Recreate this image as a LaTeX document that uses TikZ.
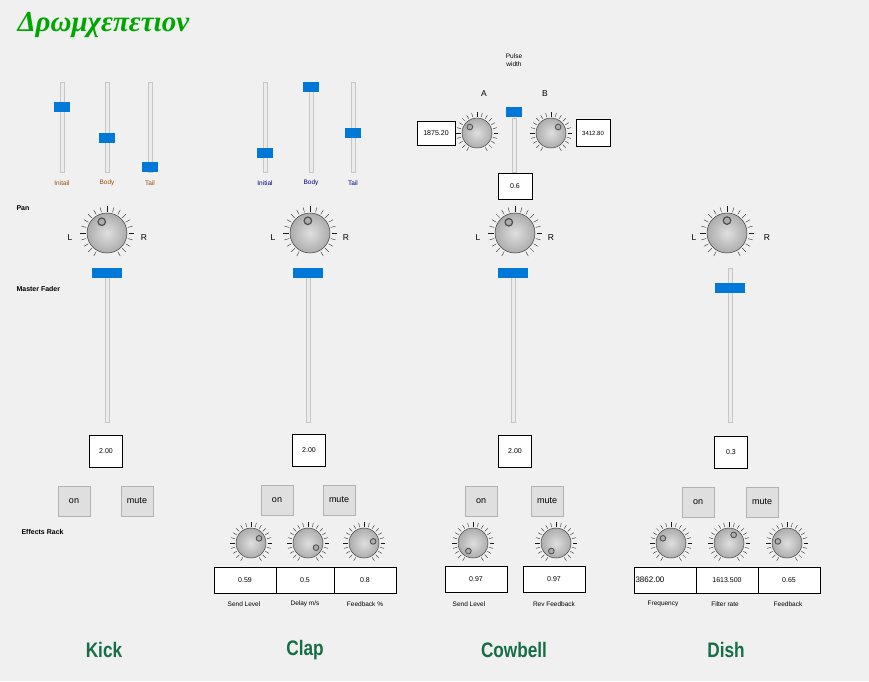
\documentclass[tikz,border=0pt]{standalone}
\usepackage{fontspec}
\setmainfont{Liberation Sans}
\newfontfamily\greekf{Liberation Serif}
\begin{document}
\begin{tikzpicture}[x=1pt,y=-1pt,
  trk/.style={draw=gray!45,fill=gray!15,line width=0.5pt},
  vbox/.style={draw=black,fill=white,line width=0.6pt,font=\fontsize{7}{8}\selectfont,inner sep=0pt},
  btn/.style={draw=gray!60,fill=gray!25,minimum width=32pt,minimum height=30pt,font=\fontsize{9}{10}\selectfont,inner sep=0pt},
  sl/.style={font=\fontsize{6.5}{7.5}\selectfont},
  sect/.style={font=\fontsize{7}{8}\bfseries\selectfont},
  lr/.style={font=\fontsize{8.5}{9}\selectfont},
  big/.style={font=\fontsize{21}{22}\bfseries\selectfont,xscale=0.82}]
\definecolor{hb}{RGB}{0,120,215}
\definecolor{bg}{RGB}{22,110,70}
\tikzset{hnd/.style={fill=hb,draw=none},big/.append style={text=bg}}
\fill[gray!12] (0,0) rectangle (869,681);
\useasboundingbox (0,0) rectangle (869,681);
\newcommand{\knob}[5]{% x y r dotangle name
  \foreach \a in {-60,-45,...,240} {\draw[gray!20!black,line width=0.35pt] (#1,#2)++(-\a:{#3+1.5}) -- ++(-\a:{#3*0.18+1.5});}
  \shade[inner color=gray!25,outer color=gray!65,draw=gray!50!black,line width=0.5pt] (#1,#2) circle (#3) node(#5){};
  \fill[gray!60!black] (#1,#2)++(-#4:{#3*0.62}) circle ({#3*0.22});
  \fill[gray!65] (#1,#2)++(-#4:{#3*0.62}) circle ({#3*0.15});}
\newcommand{\vs}[5]{% x top bottom handley name
  \fill[trk] ({#1-2},#2) rectangle ({#1+2},#3);
  \fill[hnd] ({#1-8},{#4-5}) rectangle ({#1+8},{#4+5});
  \coordinate (#5) at (#1,#4);}
\newcommand{\fd}[3]{% x handley name
  \fill[trk] ({#1-2},268) rectangle ({#1+2},422);
  \fill[hnd] ({#1-15},{#2-5}) rectangle ({#1+15},{#2+5});
  \coordinate (#3) at (#1,#2);}
% title
\node[anchor=west,font=\greekf\itshape\bfseries\fontsize{29}{31}\selectfont,text=green!65!black] (title) at (14,25) {Δρωμχεπετιον};
\node[sect,anchor=west] (pan) at (13,208) {Pan};
\node[sect,anchor=west] (mf) at (13,289) {Master Fader};
\node[sect,anchor=west] (fx) at (18,532) {Effects Rack};
% Kick
\vs{62}{82}{172}{107}{k1}\vs{107}{82}{172}{138}{k2}\vs{150}{82}{172}{167}{k3}
\node[sl,text=orange!60!black] (k1l) at (62,183) {Initail};
\node[sl,text=orange!60!black] (k2l) at (107,183) {Body};
\node[sl,text=orange!60!black] (k3l) at (150,183) {Tail};
\knob{107}{233}{20}{115}{kp}
\node[lr] (kL) at (70,238) {L};
\node[lr] (kR) at (144,238) {R};
\fd{107}{273}{kf}
\node[vbox,minimum width=33pt,minimum height=32pt] (kv) at (106,451) {2.00};
\node[btn] (kon) at (74,501) {on};
\node[btn] (kmu) at (137,501) {mute};
\node[big] (kick) at (104,650) {Kick};
% Clap
\vs{265}{82}{172}{153}{c1}\vs{311}{82}{172}{87}{c2}\vs{353}{82}{172}{133}{c3}
\node[sl,text=blue!50!black] (c1l) at (265,183) {Initial};
\node[sl,text=blue!50!black] (c2l) at (311,183) {Body};
\node[sl,text=blue!50!black] (c3l) at (353,183) {Tail};
\knob{310}{233}{20}{100}{cp}
\node[lr] (cL) at (273,238) {L};
\node[lr] (cR) at (346,238) {R};
\fd{308}{273}{cf}
\node[vbox,minimum width=33pt,minimum height=32pt] (cv) at (309,450) {2.00};
\node[btn] (con) at (277,500) {on};
\node[btn] (cmu) at (339,500) {mute};
\knob{251}{543}{15}{30}{ce1}\knob{308}{543}{15}{-30}{ce2}\knob{364}{543}{15}{10}{ce3}
\node[vbox,minimum width=62pt,minimum height=26pt] (cb1) at (245,580) {0.59};
\node[vbox,minimum width=58pt,minimum height=26pt] (cb2) at (305,580) {0.5};
\node[vbox,minimum width=62pt,minimum height=26pt] (cb3) at (365,580) {0.8};
\node[sl] (cb1l) at (244,604) {Send Level};
\node[sl] (cb2l) at (305,604) {Delay m/s};
\node[sl] (cb3l) at (365,604) {Feedback \%};
\node[big] (clap) at (305,650) {Clap};
% Cowbell
\node[sl,align=center] (pw) at (514,60) {Pulse\\width};
\vs{514}{118}{172}{112}{pws}
\node[vbox,minimum width=34pt,minimum height=26pt] (pwv) at (515,186) {0.6};
\node[lr] (A) at (484,94) {A};
\node[lr] (B) at (545,94) {B};
\knob{477}{133}{15}{140}{ka}\knob{551}{133}{15}{40}{kb}
\node[vbox,minimum width=38pt,minimum height=24pt] (av) at (436,133) {1875.20};
\node[vbox,minimum width=34pt,minimum height=27pt,font=\fontsize{6}{7}\selectfont] (bv) at (593,133) {3412.80};
\knob{515}{233}{20}{120}{wp}
\node[lr] (wL) at (478,238) {L};
\node[lr] (wR) at (551,238) {R};
\fd{513}{273}{wf}
\node[vbox,minimum width=33pt,minimum height=32pt] (wv) at (515,451) {2.00};
\node[btn] (won) at (481,501) {on};
\node[btn] (wmu) at (547,501) {mute};
\knob{473}{543}{15}{-120}{we1}\knob{556}{543}{15}{-120}{we2}
\node[vbox,minimum width=62pt,minimum height=26pt] (wb1) at (476,579) {0.97};
\node[vbox,minimum width=62pt,minimum height=26pt] (wb2) at (554,579) {0.97};
\node[sl] (wb1l) at (469,604) {Send Level};
\node[sl] (wb2l) at (554,604) {Rev Feedback};
\node[big] (cow) at (514,650) {Cowbell};
% Dish
\knob{727}{233}{20}{90}{dp}
\node[lr] (dL) at (694,238) {L};
\node[lr] (dR) at (767,238) {R};
\fd{730}{288}{df}
\node[vbox,minimum width=33pt,minimum height=32pt] (dv) at (731,452) {0.3};
\node[btn] (don) at (698,502) {on};
\node[btn] (dmu) at (762,502) {mute};
\knob{671}{543}{15}{150}{de1}\knob{729}{543}{15}{60}{de2}\knob{787}{543}{15}{170}{de3}
\node[vbox,minimum width=62pt,minimum height=26pt,text width=59pt,align=left,font=\fontsize{8}{9}\selectfont] (db1) at (665,580) {3862.00};
\node[vbox,minimum width=62pt,minimum height=26pt] (db2) at (727,580) {1613.500};
\node[vbox,minimum width=62pt,minimum height=26pt] (db3) at (789,580) {0.65};
\node[sl] (db1l) at (663,604) {Frequency};
\node[sl] (db2l) at (725,604) {Filter rate};
\node[sl] (db3l) at (788,604) {Feedback};
\node[big] (dish) at (726,650) {Dish};
\end{tikzpicture}
\end{document}
